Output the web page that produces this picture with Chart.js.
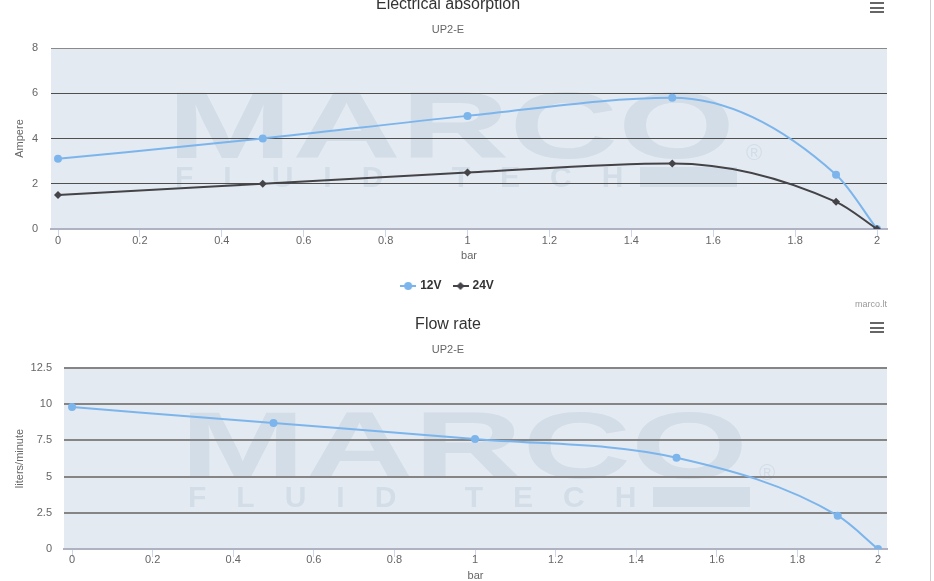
<!DOCTYPE html>
<html>
<head>
<meta charset="utf-8">
<script src="https://cdn.jsdelivr.net/npm/chart.js@4/dist/chart.umd.min.js"></script>
<style>
  body { margin: 0; width: 934px; height: 581px; overflow: hidden; position: relative; background: #fff; }
  .box { position: absolute; left: 0; }
  .menu { position: absolute; left: 870px; width: 14px; }
  .menu span { display: block; height: 2px; background: #666; margin-bottom: 2.5px; }
  .credit { position: absolute; right: 47px; top: 299px; font: 9px "Liberation Sans", Arial, sans-serif; color: #999; }
  .edge { position: absolute; left: 930px; top: 0; width: 1px; height: 581px; background: #cfcfcf; }
</style>
</head>
<body>
<div class="box" style="top:-10px"><canvas id="chart1" width="897" height="312"></canvas></div>
<div class="menu" style="top:2px"><span></span><span></span><span></span></div>
<div class="credit">marco.lt</div>
<div class="box" style="top:310px"><canvas id="chart2" width="897" height="279"></canvas></div>
<div class="menu" style="top:322px"><span></span><span></span><span></span></div>
<div class="edge"></div>
<script>
// values
const pressureBar = [0, 0.5, 1, 1.5, 1.9, 2];
const current12V = [3.1, 4.0, 5.0, 5.8, 2.4, 0];
const current24V = [1.5, 2.0, 2.5, 2.9, 1.2, 0];
const flowRate = [9.8, 8.7, 7.6, 6.3, 2.3, 0];
const seriesNames = ["12V", "24V"];

const xTickValues = [0, 0.2, 0.4, 0.6, 0.8, 1, 1.2, 1.4, 1.6, 1.8, 2];
const xTickLabels = ["0", "0.2", "0.4", "0.6", "0.8", "1", "1.2", "1.4", "1.6", "1.8", "2"];
const ampereTicks = [0, 2, 4, 6, 8];
const flowTicks = [0, 2.5, 5, 7.5, 10, 12.5];

const BLUE = "#7cb5ec";
const DARK = "#434348";

Chart.defaults.font.family = '"Liberation Sans", Arial, sans-serif';
Chart.defaults.color = "#666";

const points = (ys) => pressureBar.map((x, i) => ({ x, y: ys[i] }));

// plot background + MARCO watermark, drawn under the grid
const plotBackground = {
  id: "plotBackground",
  beforeDraw(chart) {
    const { ctx, chartArea: a } = chart;
    ctx.save();
    ctx.fillStyle = "#e4eaf1";
    ctx.fillRect(a.left, a.top, a.right - a.left, a.bottom - a.top);

    const x0 = a.left + 122;
    const top = a.top + 42;
    ctx.fillStyle = "#d2dde7";
    ctx.textBaseline = "alphabetic";
    ctx.font = 'bold 95px "Liberation Sans"';
    const w = ctx.measureText("MARCO").width;
    ctx.save();
    ctx.translate(x0 - 6, top + 68);
    ctx.scale(568 / w, 1);
    ctx.fillText("MARCO", 0, 0);
    ctx.restore();
    ctx.fillRect(x0 + 467, top + 77, 97, 20);
    ctx.font = 'bold 30px "Liberation Sans"';
    let x = x0 + 2;
    for (const ch of "FLUID TECH") {
      ctx.fillText(ch, x, top + 97);
      x += ctx.measureText(ch).width + 30;
    }
    ctx.font = '22px "Liberation Sans"';
    ctx.fillText("\u00AE", x0 + 573, top + 70);
    ctx.restore();
  },
};

function legendMarker(color, shape) {
  const c = document.createElement("canvas");
  c.width = 16;
  c.height = 10;
  const g = c.getContext("2d");
  g.strokeStyle = color;
  g.lineWidth = 2;
  g.beginPath();
  g.moveTo(0, 5);
  g.lineTo(16, 5);
  g.stroke();
  g.fillStyle = color;
  g.beginPath();
  if (shape === "circle") {
    g.arc(8, 5, 4, 0, Math.PI * 2);
  } else {
    g.moveTo(8, 1);
    g.lineTo(12, 5);
    g.lineTo(8, 9);
    g.lineTo(4, 5);
    g.closePath();
  }
  g.fill();
  return c;
}
const legendMarkers = [legendMarker(BLUE, "circle"), legendMarker(DARK, "diamond")];

function buildOptions(cfg) {
  return {
    responsive: false,
    animation: false,
    events: [],
    layout: { padding: { left: 9, right: 10, top: 0, bottom: 0 } },
    plugins: {
      tooltip: { enabled: false },
      title: {
        display: true,
        text: cfg.title,
        color: "#333",
        font: { size: 16, weight: "normal" },
        padding: cfg.titlePad,
      },
      subtitle: {
        display: true,
        text: "UP2-E",
        color: "#666",
        font: { size: 11 },
        padding: cfg.subPad,
      },
      legend: cfg.legend,
    },
    scales: {
      x: {
        type: "linear",
        min: cfg.xMin,
        max: cfg.xMax,
        afterBuildTicks: (s) => { s.ticks = xTickValues.map((v) => ({ value: v })); },
        afterFit: (s) => { s.height = cfg.xHeight; },
        ticks: {
          autoSkip: false,
          maxRotation: 0,
          padding: cfg.xTickPad,
          color: "#666",
          font: { size: 11 },
          callback: (v, i) => xTickLabels[i],
        },
        grid: { drawOnChartArea: false, drawTicks: true, tickLength: 8, tickColor: "#ccd6eb" },
        border: { display: true, color: "#aeb2c2", width: 2 },
        title: { display: true, text: "bar", color: "#666", font: { size: 11 }, padding: { top: 0, bottom: cfg.xTitlePad } },
      },
      y: {
        min: cfg.yTicks[0],
        max: cfg.yTicks[cfg.yTicks.length - 1],
        afterBuildTicks: (s) => { s.ticks = cfg.yTicks.map((v) => ({ value: v })); },
        afterFit: (s) => { s.width = cfg.yWidth; },
        ticks: { padding: cfg.yTickPad, color: "#666", font: { size: 11 } },
        grid: {
          drawTicks: false,
          lineWidth: cfg.gridWidth,
          color: (c) => {
            if (c.tick.value === cfg.yTicks[0]) return "rgba(0,0,0,0)";
            if (c.tick.value === cfg.yTicks[cfg.yTicks.length - 1]) return cfg.topGrid;
            return cfg.gridColor;
          },
        },
        border: { display: false },
        title: { display: true, text: cfg.yTitle, color: "#666", font: { size: 11 }, padding: { top: 4.4, bottom: 0 } },
      },
    },
  };
}

new Chart(document.getElementById("chart1"), {
  type: "line",
  data: {
    datasets: [
      {
        label: seriesNames[0],
        data: points(current12V),
        borderColor: BLUE,
        backgroundColor: BLUE,
        borderWidth: 2,
        pointRadius: 4,
        pointBorderWidth: 0,
        pointStyle: "circle",
        cubicInterpolationMode: "monotone",
        order: 1,
      },
      {
        label: seriesNames[1],
        data: points(current24V),
        borderColor: DARK,
        backgroundColor: DARK,
        borderWidth: 2,
        pointRadius: 4,
        pointBorderWidth: 0,
        pointStyle: "rectRot",
        cubicInterpolationMode: "monotone",
        order: 0,
      },
    ],
  },
  options: buildOptions({
    title: "Electrical absorption",
    titlePad: { top: 5, bottom: 9.2 },
    subPad: { top: 0, bottom: 11.4 },
    xMin: -0.0171,
    xMax: 2.0244,
    xHeight: 38,
    xTickPad: -3,
    xTitlePad: 4.4,
    yTicks: ampereTicks,
    yWidth: 42,
    yTickPad: 13,
    yTitle: "Ampere",
    gridWidth: 1,
    gridColor: "#4f4f4f",
    topGrid: "#8a8a8a",
    legend: {
      display: true,
      position: "bottom",
      labels: {
        usePointStyle: true,
        boxWidth: 12,
        padding: 13,
        color: "#333",
        font: { size: 12, weight: "bold" },
        sort: (a, b) => a.datasetIndex - b.datasetIndex,
        generateLabels: (chart) => {
          const items = Chart.defaults.plugins.legend.labels.generateLabels(chart);
          items.forEach((it) => { it.pointStyle = legendMarkers[it.datasetIndex]; });
          return items;
        },
      },
    },
  }),
  plugins: [plotBackground],
});

new Chart(document.getElementById("chart2"), {
  type: "line",
  data: {
    datasets: [
      {
        label: seriesNames[0],
        data: points(flowRate),
        borderColor: BLUE,
        backgroundColor: BLUE,
        borderWidth: 2,
        pointRadius: 4,
        pointBorderWidth: 0,
        pointStyle: "circle",
        cubicInterpolationMode: "monotone",
      },
    ],
  },
  options: buildOptions({
    title: "Flow rate",
    titlePad: { top: 5.4, bottom: 8.3 },
    subPad: { top: 0, bottom: 11.9 },
    xMin: -0.0199,
    xMax: 2.0223,
    xHeight: 40,
    xTickPad: -3.5,
    xTitlePad: 6.4,
    yTicks: flowTicks,
    yWidth: 55,
    yTickPad: 12,
    yTitle: "liters/minute",
    gridWidth: 2,
    gridColor: "#858585",
    topGrid: "#858585",
    legend: { display: false },
  }),
  plugins: [plotBackground],
});
</script>
</body>
</html>
